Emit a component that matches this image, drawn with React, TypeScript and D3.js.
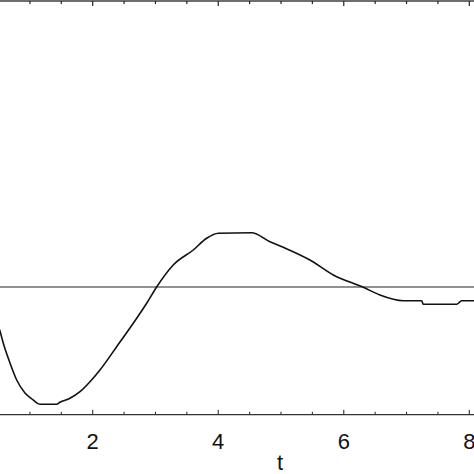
import React from "react";
import * as d3 from "d3";

const tValues = [0.45, 0.523, 0.57, 0.682, 0.789, 0.921, 1.053, 1.16, 1.426, 1.478, 1.638, 1.797, 1.957, 2.116, 2.382, 2.646, 2.86, 3.019, 3.283, 3.602, 3.816, 4.001, 4.532, 4.824, 5.036, 5.461, 5.833, 6.311, 6.576, 6.948, 7.241, 7.266, 7.798, 7.878, 8.074, 8.2];
const yValues = [-0.35, -0.44, -0.55, -0.76, -0.93, -1.06, -1.13, -1.173, -1.173, -1.153, -1.113, -1.047, -0.947, -0.83, -0.597, -0.363, -0.163, 0, 0.22, 0.37, 0.487, 0.537, 0.543, 0.453, 0.397, 0.27, 0.12, -0.003, -0.08, -0.137, -0.137, -0.173, -0.173, -0.137, -0.137, -0.137];
const majorTicks = [2, 4, 6, 8];
const minorTicks = [1, 1.5, 2.5, 3, 3.5, 4.5, 5, 5.5, 6.5, 7, 7.5];
const xLabel = "t";
const refLevel = 0;

const W = 474;
const H = 474;

export default function App() {
  const x = d3.scaleLinear().domain([2, 8]).range([92.7, 469.3]);
  const y = d3.scaleLinear().domain([-1.29, 2.86]).range([416, 1]);
  const axisY = 414.7;
  const line = d3
    .line<number>()
    .x((_, i) => x(tValues[i]))
    .y((d) => y(d))
    .curve(d3.curveMonotoneX);

  return (
    <svg
      width={W}
      height={H}
      style={{ position: "fixed", left: 0, top: 0, background: "#fff" }}
    >
      {/* top frame */}
      <line x1={0} x2={W} y1={1} y2={1} stroke="#6e6e6e" strokeWidth={2.2} />
      {majorTicks.map((t) => (
        <line key={"tm" + t} x1={x(t)} x2={x(t)} y1={1} y2={6} stroke="#222" strokeWidth={1.2} />
      ))}
      {minorTicks.map((t) => (
        <line key={"tn" + t} x1={x(t)} x2={x(t)} y1={1} y2={4} stroke="#222" strokeWidth={1.2} />
      ))}
      {/* bottom axis */}
      <line x1={0} x2={W} y1={axisY} y2={axisY} stroke="#333" strokeWidth={1.2} />
      {majorTicks.map((t) => (
        <line key={"bm" + t} x1={x(t)} x2={x(t)} y1={axisY} y2={axisY - 5} stroke="#333" strokeWidth={1.1} />
      ))}
      {minorTicks.map((t) => (
        <line key={"bn" + t} x1={x(t)} x2={x(t)} y1={axisY} y2={axisY - 3} stroke="#333" strokeWidth={1.1} />
      ))}
      {majorTicks.map((t) => (
        <text
          key={"lb" + t}
          x={x(t)}
          y={449}
          textAnchor="middle"
          fontFamily="Liberation Sans, Arial, sans-serif"
          fontSize={22}
          fill="#111"
        >
          {t}
        </text>
      ))}
      <text
        x={280}
        y={470}
        textAnchor="middle"
        fontFamily="Liberation Sans, Arial, sans-serif"
        fontSize={22}
        fill="#111"
      >
        {xLabel}
      </text>
      {/* reference line */}
      <line x1={0} x2={W} y1={y(refLevel)} y2={y(refLevel)} stroke="#222" strokeWidth={1.1} />
      {/* curve */}
      <path d={line(yValues) || ""} fill="none" stroke="#111" strokeWidth={1.6} />
    </svg>
  );
}
